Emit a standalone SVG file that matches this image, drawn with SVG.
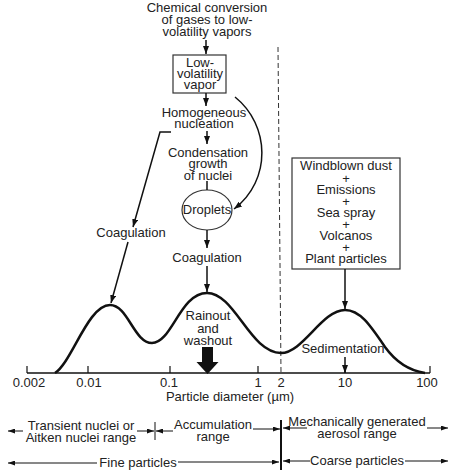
<svg xmlns="http://www.w3.org/2000/svg" width="474" height="474" viewBox="0 0 474 474">
<style>
text{font-family:"Liberation Sans",Arial,sans-serif;font-size:13px;fill:#222;text-anchor:middle}
.ln{stroke:#111;stroke-width:1.5;fill:none}
.th{stroke:#111;stroke-width:1;fill:none}
.box{fill:#fff;stroke:#333;stroke-width:1.2}
</style>
<defs>
<marker id="ah" markerUnits="userSpaceOnUse" markerWidth="8" markerHeight="6" refX="8" refY="3" orient="auto"><path d="M0,0 L8,3 L0,6 z" fill="#111"/></marker>
<marker id="as" markerUnits="userSpaceOnUse" markerWidth="7" markerHeight="5" refX="7" refY="2.5" orient="auto"><path d="M0,0 L7,2.5 L0,5 z" fill="#111"/></marker>
</defs>
<rect width="474" height="474" fill="#fff"/>

<g id="axis">
<line x1="27" y1="373" x2="430" y2="373" stroke="#111" stroke-width="1.5"/>
<g stroke="#111" stroke-width="1.2">
<line x1="27" y1="366" x2="27" y2="373"/><line x1="88" y1="366" x2="88" y2="373"/><line x1="170" y1="366" x2="170" y2="373"/><line x1="258" y1="366" x2="258" y2="373"/><line x1="345" y1="366" x2="345" y2="373"/><line x1="430" y1="366" x2="430" y2="373"/>
</g>
<text x="29" y="387">0.002</text><text x="89" y="387">0.01</text><text x="169" y="387">0.1</text><text x="258" y="387">1</text><text x="281" y="387">2</text><text x="345" y="387">10</text><text x="427" y="387">100</text>
<text x="230" y="401">Particle diameter  (µm)</text>
</g>

<line id="divider" x1="278" y1="47" x2="281" y2="373" stroke="#333" stroke-width="1" stroke-dasharray="5,3"/>

<path id="distribution" d="M55,373 C72,362 88,305 110,305 C128,305 134,343 152,343 C172,343 180,293 207,293 C235,293 250,353 281,353 C303,353 322,310 345,310 C360,310 370,325 385,347 C398,365 412,371 425,373" stroke="#111" stroke-width="2.5" fill="none"/>

<g id="n-source"><text x="207" y="12">Chemical conversion</text><text x="207" y="24">of gases to low-</text><text x="207" y="36">volatility vapors</text></g>
<g id="n-vapor"><rect class="box" x="173" y="55" width="53" height="38"/><text x="200" y="67">Low-</text><text x="200" y="78">volatility</text><text x="200" y="89">vapor</text></g>
<g id="n-nucleation"><text x="204" y="117">Homogeneous</text><text x="204" y="128">nucleation</text></g>
<g id="n-condensation"><text x="208" y="157">Condensation</text><text x="208" y="168">growth</text><text x="208" y="180">of nuclei</text></g>
<g id="n-droplets"><ellipse cx="207" cy="210" rx="25" ry="20" fill="#fff" stroke="#333" stroke-width="1.2"/><text x="207" y="214">Droplets</text></g>
<g id="n-coag-mid"><text x="207" y="262">Coagulation</text></g>
<g id="n-coag-left"><text x="131" y="237">Coagulation</text></g>
<g id="n-rainout"><text x="208" y="320">Rainout</text><text x="208" y="333">and</text><text x="208" y="345">washout</text>
<polygon points="202,347 213,347 213,362 218.5,362 207.5,374 196.5,362 202,362" fill="#111"/></g>
<g id="n-sources"><rect class="box" x="292" y="158" width="108" height="111"/>
<text x="346" y="170">Windblown dust</text><text x="346" y="183">+</text><text x="346" y="194">Emissions</text><text x="346" y="206">+</text><text x="346" y="217">Sea spray</text><text x="346" y="229">+</text><text x="346" y="240">Volcanos</text><text x="346" y="252">+</text><text x="346" y="263">Plant particles</text></g>
<g id="n-sedimentation"><text x="343" y="353">Sedimentation</text></g>

<g id="connectors">
<line class="ln" x1="206" y1="40" x2="206" y2="54" marker-end="url(#ah)"/>
<line class="ln" x1="206" y1="93" x2="206" y2="106" marker-end="url(#ah)"/>
<line class="ln" x1="207" y1="131" x2="207" y2="144" marker-end="url(#ah)"/>
<line class="ln" x1="207" y1="181" x2="207" y2="190"/>
<path class="ln" d="M235,97 C270,125 272,180 234,209" marker-end="url(#ah)"/>
<line class="ln" x1="207" y1="230" x2="207" y2="248" marker-end="url(#ah)"/>
<line class="ln" x1="207" y1="266" x2="207" y2="292" marker-end="url(#ah)"/>
<polyline class="ln" points="171,132 160,132 133,227" marker-end="url(#ah)"/>
<line class="ln" x1="128" y1="242" x2="111" y2="303" marker-end="url(#ah)"/>
<line class="ln" x1="345" y1="269" x2="345" y2="309" marker-end="url(#ah)"/>
<line class="ln" x1="345" y1="357" x2="345" y2="373" marker-end="url(#ah)"/>
</g>

<g id="ranges">
<line class="th" x1="23" y1="431" x2="8" y2="431" marker-end="url(#as)"/>
<text x="81" y="430">Transient nuclei or</text><text x="81" y="442">Aitken nuclei range</text>
<line class="th" x1="137" y1="431" x2="154" y2="431" marker-end="url(#as)"/>
<line class="th" x1="155" y1="422" x2="155" y2="440"/>
<line class="th" x1="173" y1="431" x2="156" y2="431" marker-end="url(#as)"/>
<text x="213" y="429">Accumulation</text><text x="213" y="441">range</text>
<line class="th" x1="253" y1="429" x2="280" y2="429" marker-end="url(#as)"/>
<line x1="281" y1="420" x2="281" y2="470" stroke="#111" stroke-width="2"/>
<line class="th" x1="307" y1="428" x2="283" y2="428" marker-end="url(#as)"/>
<text x="357" y="426">Mechanically generated</text><text x="357" y="438">aerosol range</text>
<line class="th" x1="427" y1="428" x2="448" y2="428" marker-end="url(#as)"/>
<line class="th" x1="97" y1="463" x2="8" y2="463" marker-end="url(#as)"/>
<text x="138" y="467">Fine particles</text>
<line class="th" x1="178" y1="462" x2="279" y2="462" marker-end="url(#as)"/>
<line class="th" x1="310" y1="461" x2="283" y2="461" marker-end="url(#as)"/>
<text x="357" y="465">Coarse particles</text>
<line class="th" x1="405" y1="461" x2="448" y2="461" marker-end="url(#as)"/>
</g>
</svg>
